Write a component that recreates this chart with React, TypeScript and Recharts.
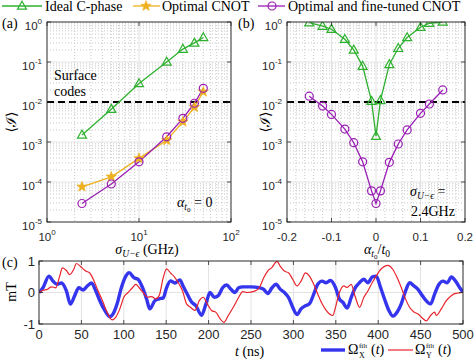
import React from 'react';
import { LineChart, Line, XAxis, YAxis, CartesianGrid, ReferenceLine } from 'recharts';

// (a) mean infidelity vs noise strength sigma_{U-eps} (GHz), alpha_t0 = 0
const sigmaGHz = [2.4, 5, 10, 20, 30, 40, 50];
const idealVsSigma = [1.5e-3, 6.6e-3, 0.029, 0.1, 0.21, 0.3, 0.41];
const optimalVsSigma = [7.6e-5, 1.35e-4, 3.9e-4, 1.1e-3, 3.2e-3, 7.4e-3, 0.018];
const fineVsSigma = [2.9e-5, 8.9e-5, 3.2e-4, 1.35e-3, 3.9e-3, 9.3e-3, 0.022];

// (b) mean infidelity vs alpha_t0 / t0, sigma = 2.4 GHz
const alphaRatio = [-0.15, -0.12, -0.1, -0.07, -0.05, -0.03, -0.01, 0, 0.01, 0.03, 0.05, 0.07, 0.1, 0.12, 0.15];
const idealVsAlpha = [0.96, 0.79, 0.66, 0.37, 0.2, 0.079, 0.0105, 0.0014, 0.011, 0.087, 0.22, 0.41, 0.74, 0.93, 1.0];
const fineVsAlpha = [0.014, 0.0079, 0.0049, 0.0021, 9.6e-4, 3.2e-4, 6e-5, 2.9e-5, 6e-5, 3.1e-4, 8.9e-4, 0.002, 0.0052, 0.0089, 0.02];

const surfaceCodeLimit = 0.01;

// (c) filtered control fields (mT) vs time (ns)
const tX = [
  0, 4.7, 11.8, 16.5, 21.3, 26.4, 32.3, 37, 42.1, 46.9,
  52, 56.7, 61.8, 67, 71.7, 77.6, 83.5, 87.4, 92.1, 97.2,
  102.4, 106.3, 111.8, 116.9, 122, 126.8, 130.7, 136.6, 141.7, 146.5,
  150.4, 155.1, 160.2, 166.1, 170, 174.8, 179.9, 185, 191.7, 196.9,
  201.6, 206.7, 211.4, 216.5, 221.3, 226.4, 231.1, 235.4, 240.2, 250,
  259.8, 265, 269.7, 274.8, 279.5, 284.6, 289.4, 294.5, 299.2, 304.3,
  309, 314.2, 318.9, 324, 328.7, 333.9, 338.6, 343.7, 349.6, 354.3,
  358.3, 363.4, 368.1, 373.2, 377.9, 383, 387.8, 392.9, 397.6, 402.8,
  407.5, 412.6, 417.3, 422.4, 427.2, 432.3, 437, 442.1, 446.9, 452,
  461.8, 466.5, 471.7, 476.4, 481.5, 486.2, 491.3, 496, 500,
];
const omegaX = [
  0, 0.15, 0.52, 0.36, 0.26, 0.3, 0.05, -0.37, -0.1, 0.15,
  0.08, 0.2, 0.3, 0.05, -0.26, -0.57, -0.77, -0.68, -0.36, 0.16,
  0.52, 0.63, 0.47, 0.42, 0.16, -0.2, -0.52, -0.26, -0.2, -0.17,
  0.15, 0.37, 0.3, 0.4, 0.2, -0.05, -0.3, -0.42, -0.72, -0.36,
  0, -0.15, -0.1, 0.15, 0.24, 0.1, 0, 0.15, 0.18, 0.18,
  0.15, 0.1, -0.03, 0.15, 0.26, 0.1, 0, -0.17, -0.47, -0.7,
  -0.52, -0.42, -0.36, -0.05, 0.26, 0.36, 0.31, 0.38, 0.16, -0.21,
  -0.31, -0.49, -0.16, 0.16, 0.31, 0.42, 0.31, 0.49, 0.52, 0.16,
  -0.21, -0.57, -0.75, -0.62, -0.36, 0.05, 0.31, 0.21, 0.1, -0.1,
  -0.36, -0.05, 0.26, 0.36, 0.31, 0.49, 0.36, 0.16, 0.02,
];
const tY = [
  0, 4.7, 9.8, 14.6, 19.7, 24.4, 27.6, 32.3, 36.2, 40.9,
  44.1, 50, 55.1, 59.8, 65, 69.7, 75.6, 80.3, 86.2, 90.6,
  95.3, 100, 105.1, 110.2, 114.2, 118.1, 122.8, 128, 132.7, 137.8,
  141.7, 146.5, 150.4, 155.1, 159, 164.2, 169.3, 174, 178.7, 183.9,
  189, 193.7, 198.4, 203.5, 208.7, 213.4, 218.1, 223.2, 229.1, 235.4,
  240.2, 245.3, 255.1, 259.8, 265, 269.7, 274.8, 280.7, 284.6, 289.4,
  294.5, 299.2, 304.3, 309, 314.2, 318.9, 324, 328.7, 333.9, 338.6,
  346.5, 349.6, 354.3, 359.4, 363.4, 368.1, 373.2, 378, 383, 387.8,
  392.9, 397.6, 402.8, 407.5, 411.4, 417.3, 422.4, 427.2, 432.3, 437,
  442.1, 446.9, 452, 456.7, 461.8, 466.5, 468.5, 474.4, 480.3, 486.2,
  491.3, 500,
];
const omegaY = [
  0, 0.07, 0.1, 0.18, 0.15, 0.52, 0.78, 0.7, 0.57, 0.73,
  0.92, 0.8, 0.68, 0.62, 0.36, 0.05, -0.31, -0.63, -0.87, -0.78,
  -0.52, -0.15, 0, 0.15, 0.26, 0.15, 0, -0.15, -0.13, -0.2,
  -0.1, 0.47, 0.75, 0.62, 0.52, 0.31, 0.05, -0.36, -0.47, -0.57,
  -0.26, -0.15, -0.36, -0.57, -0.63, -0.83, -0.95, -0.73, -0.47, -0.16,
  0.03, 0, 0.05, 0.15, 0.47, 0.68, 0.8, 0.99, 0.83, 0.68,
  0.62, 0.42, 0.21, 0.36, 0.62, 0.52, 0.26, -0.05, -0.36, -0.57,
  -0.73, -0.47, 0, 0.21, 0.16, 0.26, -0.16, -0.47, -0.16, 0.05,
  0.31, 0.52, 0.73, 0.83, 0.86, 0.73, 0.47, 0.16, -0.21, -0.47,
  -0.62, -0.68, -0.81, -0.9, -0.73, -0.62, -0.73, -0.52, -0.26, -0.1,
  -0.03, 0,
];

// ticks
const infidelityTicks = [1e-5, 1e-4, 1e-3, 1e-2, 1e-1, 1];
const sigmaTicks = [1, 10, 100];
const alphaTicks = [-0.2, -0.1, 0, 0.1, 0.2];
const alphaMinorTicks = [-0.18, -0.16, -0.14, -0.12, -0.08, -0.06, -0.04, -0.02, 0.02, 0.04, 0.06, 0.08, 0.12, 0.14, 0.16, 0.18];
const timeTicks = [0, 50, 100, 150, 200, 250, 300, 350, 400, 450, 500];
const fieldTicks = [-1, 0, 1];
const minorMultipliers = [2, 3, 4, 5, 6, 7, 8, 9];

const minorOf = (decades: number[]) =>
  decades.slice(0, -1).flatMap(d => minorMultipliers.map(m => m * d));

const GREEN = '#2fb12f';
const ORANGE = '#edb120';
const PURPLE = '#9a1eb4';
const BLUE = '#3535ee';
const RED = '#e8242c';
const AXIS = '#262626';
const MAJOR_GRID = '#e2e2e2';
const MINOR_GRID = '#c9c9c9';
const SANS = '"Liberation Sans", Arial, sans-serif';
const SERIF = '"Liberation Serif", "DejaVu Serif", serif';

const pts = (xs: number[], ys: number[]) => xs.map((x, i) => ({ x, y: ys[i] }));

type Frame = { left: number; right: number; top: number; bottom: number };

// plot areas, in page pixels
const PAGE_A: Frame = { left: 47, right: 231, top: 22, bottom: 222 };
const PAGE_B: Frame = { left: 287, right: 465, top: 22, bottom: 222 };
const PAGE_C: Frame = { left: 39, right: 463, top: 261, bottom: 324 };

const local = (f: Frame, dx: number, dy: number): Frame => ({
  left: f.left - dx, right: f.right - dx, top: f.top - dy, bottom: f.bottom - dy,
});
const FA = local(PAGE_A, 0, 0);
const FB = local(PAGE_B, 240, 0);
const FC = local(PAGE_C, 0, 250);

// marker shapes
const Triangle = ({ cx, cy, color }: any) => (
  <path d={`M${cx},${cy - 4.8} L${cx + 4.5},${cy + 3.2} L${cx - 4.5},${cy + 3.2} Z`} fill="none" stroke={color} strokeWidth={1.2} />
);
const Circle = ({ cx, cy, color }: any) => (
  <circle cx={cx} cy={cy} r={4} fill="none" stroke={color} strokeWidth={1.2} />
);
const Star = ({ cx, cy, color }: any) => {
  const d = Array.from({ length: 10 }, (_, i) => {
    const r = i % 2 === 0 ? 5.5 : 2.3;
    const a = -Math.PI / 2 + (i * Math.PI) / 5;
    return `${i === 0 ? 'M' : 'L'}${cx + r * Math.cos(a)},${cy + r * Math.sin(a)}`;
  }).join(' ');
  return <path d={d + ' Z'} fill={color} stroke={color} strokeWidth={0.6} />;
};

const dotOf = (Shape: any, color: string) => (p: any) =>
  <Shape key={`d-${p.index}`} cx={p.cx} cy={p.cy} color={color} />;

// tick renderers (also draw MATLAB-style inward tick marks)
const powerYTick = (f: Frame) => (p: any) => {
  const exp = Math.round(Math.log10(p.payload.value));
  return (
    <g>
      <line x1={f.left} x2={f.left + 4} y1={p.y} y2={p.y} stroke={AXIS} strokeWidth={0.8} />
      <line x1={f.right} x2={f.right - 4} y1={p.y} y2={p.y} stroke={AXIS} strokeWidth={0.8} />
      <text x={f.left - 5} y={p.y + 8} textAnchor="end" fontFamily={SANS} fontSize={11.5} fill={AXIS}>
        10<tspan dy={-6} fontSize={8}>{exp}</tspan>
      </text>
    </g>
  );
};

const powerXTick = (f: Frame) => (p: any) => {
  const exp = Math.round(Math.log10(p.payload.value));
  return (
    <g>
      <line x1={p.x} x2={p.x} y1={f.bottom} y2={f.bottom - 4} stroke={AXIS} strokeWidth={0.8} />
      <line x1={p.x} x2={p.x} y1={f.top} y2={f.top + 4} stroke={AXIS} strokeWidth={0.8} />
      <text x={p.x} y={f.bottom + 19} textAnchor="middle" fontFamily={SANS} fontSize={11.5} fill={AXIS}>
        10<tspan dy={-6} fontSize={8}>{exp}</tspan>
      </text>
    </g>
  );
};

const plainXTick = (f: Frame, size: number, gap: number) => (p: any) => (
  <g>
    <line x1={p.x} x2={p.x} y1={f.bottom} y2={f.bottom - 4} stroke={AXIS} strokeWidth={0.8} />
    <line x1={p.x} x2={p.x} y1={f.top} y2={f.top + 4} stroke={AXIS} strokeWidth={0.8} />
    <text x={p.x} y={f.bottom + gap} textAnchor="middle" fontFamily={SANS} fontSize={size} fill={AXIS}>
      {String(p.payload.value)}
    </text>
  </g>
);

const plainYTick = (f: Frame, size: number) => (p: any) => (
  <g>
    <line x1={f.left} x2={f.left + 4} y1={p.y} y2={p.y} stroke={AXIS} strokeWidth={0.8} />
    <line x1={f.right} x2={f.right - 4} y1={p.y} y2={p.y} stroke={AXIS} strokeWidth={0.8} />
    <text x={f.left - 4} y={p.y + 4.5} textAnchor="end" fontFamily={SANS} fontSize={size} fill={AXIS}>
      {String(p.payload.value)}
    </text>
  </g>
);

const PanelA = () => (
  <LineChart width={240} height={250} margin={{ top: FA.top, right: 240 - FA.right, bottom: 0, left: 0 }}>
    <CartesianGrid horizontalValues={minorOf(infidelityTicks)} verticalValues={minorOf(sigmaTicks)} stroke={MINOR_GRID} strokeDasharray="1 2" />
    <CartesianGrid horizontalValues={infidelityTicks} verticalValues={sigmaTicks} stroke={MAJOR_GRID} />
    <XAxis type="number" dataKey="x" scale="log" domain={[1, 100]} ticks={sigmaTicks} allowDataOverflow
      height={250 - FA.bottom} axisLine={false} tickLine={false} tick={powerXTick(FA)} interval={0} />
    <YAxis type="number" dataKey="y" scale="log" domain={[1e-5, 1]} ticks={infidelityTicks} allowDataOverflow
      width={FA.left} axisLine={false} tickLine={false} tick={powerYTick(FA)} interval={0} />
    <ReferenceLine y={surfaceCodeLimit} stroke="#000" strokeWidth={1.8} strokeDasharray="7 4" />
    <Line data={pts(sigmaGHz, idealVsSigma)} dataKey="y" stroke={GREEN} strokeWidth={1.3} dot={dotOf(Triangle, GREEN)} isAnimationActive={false} />
    <Line data={pts(sigmaGHz, optimalVsSigma)} dataKey="y" stroke={ORANGE} strokeWidth={1.3} dot={dotOf(Star, ORANGE)} isAnimationActive={false} />
    <Line data={pts(sigmaGHz, fineVsSigma)} dataKey="y" stroke={PURPLE} strokeWidth={1.3} dot={dotOf(Circle, PURPLE)} isAnimationActive={false} />
  </LineChart>
);

const PanelB = () => (
  <LineChart width={234} height={250} margin={{ top: FB.top, right: 234 - FB.right, bottom: 0, left: 0 }}>
    <CartesianGrid horizontalValues={minorOf(infidelityTicks)} verticalValues={alphaMinorTicks} stroke={MINOR_GRID} strokeDasharray="1 2" />
    <CartesianGrid horizontalValues={infidelityTicks} verticalValues={alphaTicks} stroke={MAJOR_GRID} />
    <XAxis type="number" dataKey="x" domain={[-0.2, 0.2]} ticks={alphaTicks} allowDataOverflow
      height={250 - FB.bottom} axisLine={false} tickLine={false} tick={plainXTick(FB, 11.5, 19)} interval={0} />
    <YAxis type="number" dataKey="y" scale="log" domain={[1e-5, 1]} ticks={infidelityTicks} allowDataOverflow
      width={FB.left} axisLine={false} tickLine={false} tick={powerYTick(FB)} interval={0} />
    <ReferenceLine y={surfaceCodeLimit} stroke="#000" strokeWidth={1.8} strokeDasharray="7 4" />
    <Line data={pts(alphaRatio, idealVsAlpha)} dataKey="y" stroke={GREEN} strokeWidth={1.3} dot={dotOf(Triangle, GREEN)} isAnimationActive={false} />
    <Line data={pts(alphaRatio, fineVsAlpha)} dataKey="y" stroke={PURPLE} strokeWidth={1.3} dot={dotOf(Circle, PURPLE)} isAnimationActive={false} />
  </LineChart>
);

const PanelC = () => (
  <LineChart width={474} height={111} margin={{ top: FC.top, right: 474 - FC.right, bottom: 0, left: 0 }}>
    <CartesianGrid horizontalValues={fieldTicks} verticalValues={timeTicks} stroke={MAJOR_GRID} />
    <XAxis type="number" dataKey="x" domain={[0, 500]} ticks={timeTicks} allowDataOverflow
      height={111 - FC.bottom} axisLine={false} tickLine={false} tick={plainXTick(FC, 13, 15)} interval={0} />
    <YAxis type="number" dataKey="y" domain={[-1, 1]} ticks={fieldTicks} allowDataOverflow
      width={FC.left} axisLine={false} tickLine={false} tick={plainYTick(FC, 13)} interval={0} />
    <Line data={pts(tX, omegaX)} dataKey="y" type="monotone" stroke={BLUE} strokeWidth={3.4} dot={false} isAnimationActive={false} />
    <Line data={pts(tY, omegaY)} dataKey="y" type="monotone" stroke={RED} strokeWidth={1.2} dot={false} isAnimationActive={false} />
  </LineChart>
);

const Box = ({ f }: { f: Frame }) => (
  <rect x={f.left} y={f.top} width={f.right - f.left} height={f.bottom - f.top} fill="none" stroke={AXIS} strokeWidth={0.9} />
);

const Omega = ({ x, y, sub }: { x: number; y: number; sub: string }) => (
  <g fontFamily={SERIF} fill="#000">
    <text x={x} y={y} fontSize={14}>Ω</text>
    <text x={x + 11} y={y - 6} fontSize={7}>filt</text>
    <text x={x + 11} y={y + 3.5} fontSize={8}>{sub}</text>
    <text x={x + 23} y={y} fontSize={14}>(<tspan fontStyle="italic">t</tspan>)</text>
  </g>
);

const Overlay = () => (
  <svg width={474} height={361} style={{ position: 'absolute', left: 0, top: 0, pointerEvents: 'none' }}>
    <Box f={PAGE_A} />
    <Box f={PAGE_B} />
    <Box f={PAGE_C} />

    {/* top legend */}
    <g fontFamily={SERIF} fontSize={14} fill="#000">
      <line x1={2} x2={42} y1={6} y2={6} stroke={GREEN} strokeWidth={1.3} />
      <Triangle cx={22} cy={6} color={GREEN} />
      <text x={45} y={11}>Ideal C-phase</text>
      <line x1={133} x2={160} y1={6} y2={6} stroke={ORANGE} strokeWidth={1.3} />
      <Star cx={146} cy={6} color={ORANGE} />
      <text x={162} y={11}>Optimal CNOT</text>
      <line x1={258} x2={285} y1={6} y2={6} stroke={PURPLE} strokeWidth={1.3} />
      <Circle cx={272} cy={6} color={PURPLE} />
      <text x={288} y={11}>Optimal and fine-tuned CNOT</text>
    </g>

    <g fontFamily={SERIF} fontSize={14} fill="#000">
      <text x={2} y={28}>(a)</text>
      <text x={238} y={28}>(b)</text>
      <text x={2} y={267}>(c)</text>

      <text transform="translate(16,122) rotate(-90)" textAnchor="middle">⟨ℐ⟩</text>
      <text transform="translate(270,122) rotate(-90)" textAnchor="middle">⟨ℐ⟩</text>
      <text transform="translate(16,292) rotate(-90)" textAnchor="middle">mT</text>

      <text x={54} y={80}>Surface</text>
      <text x={54} y={96}>codes</text>

      <text x={177} y={207}>
        <tspan fontStyle="italic">α</tspan>
        <tspan fontSize={9.5} fontStyle="italic" dy={3}>t</tspan>
        <tspan fontSize={7} dy={2}>0</tspan>
        <tspan dy={-5}> = 0</tspan>
      </text>

      <text x={410} y={196}>
        <tspan fontStyle="italic">σ</tspan>
        <tspan fontSize={9.5} fontStyle="italic" dy={3}>U−ϵ</tspan>
        <tspan dy={-3}> =</tspan>
      </text>
      <text x={411} y={216}>2.4GHz</text>

      <text x={147} y={254} textAnchor="middle">
        <tspan fontStyle="italic">σ</tspan>
        <tspan fontSize={9.5} fontStyle="italic" dy={3}>U−ϵ</tspan>
        <tspan dy={-3}> (GHz)</tspan>
      </text>

      <text x={377} y={254} textAnchor="middle">
        <tspan fontStyle="italic">α</tspan>
        <tspan fontSize={9.5} fontStyle="italic" dy={3}>t</tspan>
        <tspan fontSize={7} dy={2}>0</tspan>
        <tspan dy={-5}>/</tspan>
        <tspan fontStyle="italic">t</tspan>
        <tspan fontSize={9.5} dy={3}>0</tspan>
      </text>

      <text x={235} y={356}>
        <tspan fontStyle="italic">t</tspan> (ns)
      </text>
    </g>

    {/* bottom legend */}
    <line x1={321} x2={345} y1={350} y2={350} stroke={BLUE} strokeWidth={3.4} />
    <Omega x={348} y={354} sub="X" />
    <line x1={388} x2={413} y1={350} y2={350} stroke={RED} strokeWidth={1.2} />
    <Omega x={415} y={354} sub="Y" />
  </svg>
);

export default function App() {
  return (
    <div style={{ position: 'absolute', left: 0, top: 0, width: 474, height: 361, background: '#fff' }}>
      <div style={{ position: 'absolute', left: 0, top: 0 }}><PanelA /></div>
      <div style={{ position: 'absolute', left: 240, top: 0 }}><PanelB /></div>
      <div style={{ position: 'absolute', left: 0, top: 250 }}><PanelC /></div>
      <Overlay />
    </div>
  );
}
